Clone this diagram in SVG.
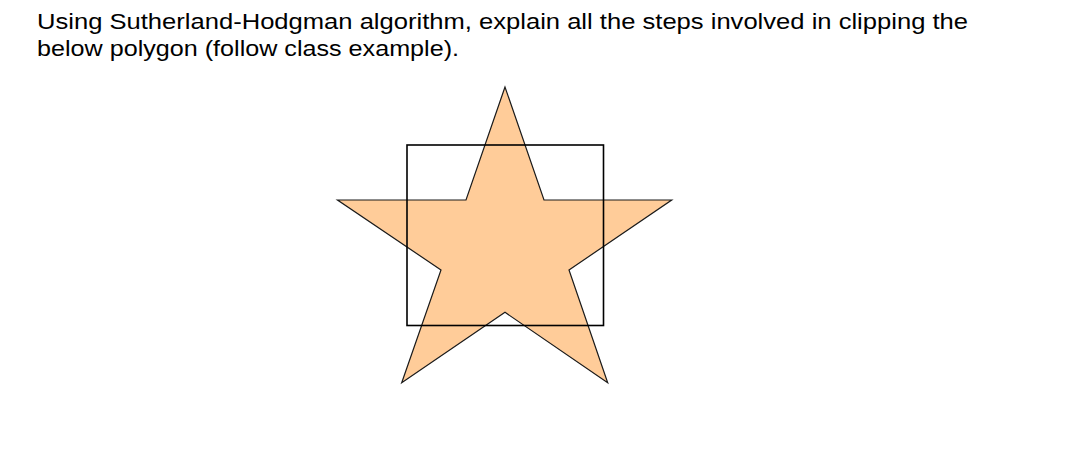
<svg xmlns="http://www.w3.org/2000/svg" width="1092" height="472" viewBox="0 0 1092 472">
<style>
.t{font-family:"Liberation Sans",Arial,sans-serif;font-size:22px;fill:#000}
.star{fill:#FFCC99;stroke:#1a1a1a;stroke-width:1.2;stroke-linejoin:miter}
.clip{fill:none;stroke:#000;stroke-width:1.6}
</style>
<rect width="1092" height="472" fill="#fff"/>
<g id="question">
<text class="t" x="37" y="29" textLength="931" lengthAdjust="spacingAndGlyphs">Using Sutherland-Hodgman algorithm, explain all the steps involved in clipping the</text>
<text class="t" x="37" y="56" textLength="422" lengthAdjust="spacingAndGlyphs">below polygon (follow class example).</text>
</g>
<g id="polygon">
<polygon class="star" points="505,87 466,200 337.5,200 441,270 401.7,382.7 505,312.3 607.7,382.7 569,270 671.7,200 544,200"/>
</g>
<g id="clip-window">
<rect class="clip" x="407" y="145" width="196.5" height="180.5"/>
</g>
</svg>
